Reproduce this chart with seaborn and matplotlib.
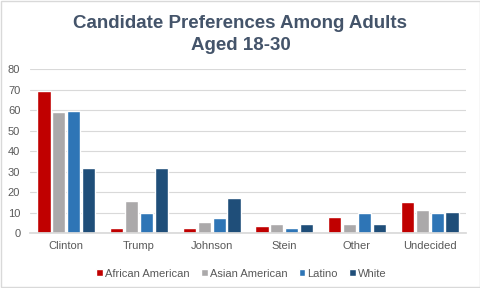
import pandas as pd
import numpy as np
import seaborn as sns
import matplotlib.pyplot as plt
from matplotlib.patches import Rectangle

# Values (percent)
candidates = ["Clinton", "Trump", "Johnson", "Stein", "Other", "Undecided"]
african_american = [69.5, 2.6, 2.6, 3.6, 8.0, 15.2]
asian_american = [59.3, 15.8, 5.5, 4.5, 4.5, 11.2]
latino = [59.8, 9.9, 7.5, 2.6, 9.9, 9.9]
white = [31.8, 31.8, 17.3, 4.5, 4.5, 10.3]

groups = ["African American", "Asian American", "Latino", "White"]
colors = ["#C00000", "#ABA9AA", "#2E75B6", "#1F4E79"]

df = pd.DataFrame({
    "Candidate": candidates * 4,
    "Group": np.repeat(groups, len(candidates)),
    "Percent": african_american + asian_american + latino + white,
})

sns.set_theme(style="white")
plt.rcParams["font.family"] = ["Liberation Sans", "DejaVu Sans"]

fig = plt.figure(figsize=(4.81, 2.88), dpi=100)
ax = fig.add_axes([30 / 481, 1 - 233 / 288, 436 / 481, (233 - 69.3) / 288])

sns.barplot(data=df, x="Candidate", y="Percent", hue="Group", order=candidates,
            hue_order=groups, palette=colors, width=0.82, gap=0.12,
            saturation=1, ax=ax, legend=True)

ax.set_ylim(0, 80)
ax.set_yticks(range(0, 81, 10))
ax.set_xlim(-0.5, len(candidates) - 0.5)
ax.set_xlabel("")
ax.set_ylabel("")
ax.yaxis.grid(True, color="#D9D9D9", linewidth=0.8)
ax.set_axisbelow(True)
for side in ["top", "right", "left"]:
    ax.spines[side].set_visible(False)
ax.spines["bottom"].set_color("#D9D9D9")
ax.tick_params(axis="both", length=0, labelsize=8, labelcolor="#595959")
ax.tick_params(axis="x", pad=6)
ax.tick_params(axis="y", pad=7)

leg = ax.legend(loc="upper center", bbox_to_anchor=(0.485, -0.19), ncol=4,
                frameon=False, fontsize=8, handlelength=0.6, handleheight=0.6,
                handletextpad=0.2, columnspacing=1.0, borderaxespad=0)
for t in leg.get_texts():
    t.set_color("#595959")

fig.text(0.5, 0.948, "Candidate Preferences Among Adults\nAged 18-30",
         ha="center", va="top", fontsize=13.5, fontweight="bold",
         color="#44546A", linespacing=1.35)

fig.patches.append(Rectangle((0.002, 0.003), 0.996, 0.994, transform=fig.transFigure,
                             fill=False, edgecolor="#D9D9D9", linewidth=1))

fig.savefig("out.png", dpi=100)
